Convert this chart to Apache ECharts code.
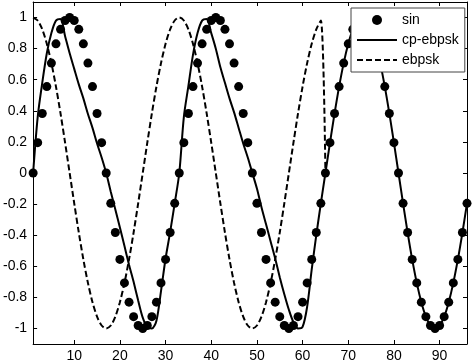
<!DOCTYPE html>
<html>
<head>
<meta charset="utf-8">
<script src="https://cdn.jsdelivr.net/npm/echarts/dist/echarts.min.js"></script>
<style>
html,body{margin:0;padding:0;background:#fff;}
#chart{width:474px;height:363px;}
</style>
</head>
<body>
<div id="chart"></div>
<script>
// sample index n = 1..96
var sampleIndex = [1,2,3,4,5,6,7,8,9,10,11,12,13,14,15,16,17,18,19,20,21,22,23,24,25,26,27,28,29,30,31,32,
  33,34,35,36,37,38,39,40,41,42,43,44,45,46,47,48,49,50,51,52,53,54,55,56,57,58,59,60,61,62,63,64,
  65,66,67,68,69,70,71,72,73,74,75,76,77,78,79,80,81,82,83,84,85,86,87,88,89,90,91,92,93,94,95,96];

var sinValues = [0,0.195,0.383,0.556,0.707,0.831,0.924,0.981,1,0.981,0.924,0.831,0.707,0.556,0.383,0.195,
  0,-0.195,-0.383,-0.556,-0.707,-0.831,-0.924,-0.981,-1,-0.981,-0.924,-0.831,-0.707,-0.556,-0.383,-0.195,
  0,0.195,0.383,0.556,0.707,0.831,0.924,0.981,1,0.981,0.924,0.831,0.707,0.556,0.383,0.195,
  0,-0.195,-0.383,-0.556,-0.707,-0.831,-0.924,-0.981,-1,-0.981,-0.924,-0.831,-0.707,-0.556,-0.383,-0.195,
  0,0.195,0.383,0.556,0.707,0.831,0.924,0.981,1,0.981,0.924,0.831,0.707,0.556,0.383,0.195,
  0,-0.195,-0.383,-0.556,-0.707,-0.831,-0.924,-0.981,-1,-0.981,-0.924,-0.831,-0.707,-0.556,-0.383,-0.195];

var cpEbpskValues = [0,0.36,0.58,0.77,0.9,0.98,0.99,0.88,0.77,0.67,0.57,0.48,0.38,0.29,0.19,0.1,
  0,-0.12,-0.235,-0.35,-0.47,-0.59,-0.7,-0.82,-0.93,-0.99,-1,-0.95,-0.76,-0.55,-0.38,-0.195,
  0,0.36,0.56,0.76,0.9,0.98,0.99,0.9,0.8,0.68,0.58,0.48,0.39,0.29,0.19,0.1,
  0,-0.1,-0.22,-0.33,-0.44,-0.55,-0.67,-0.78,-0.88,-0.96,-1,-0.99,-0.86,-0.62,-0.4,-0.195,
  0,0.195,0.383,0.556,0.707,0.831,0.924,0.981,1,0.981,0.924,0.831,0.707,0.556,0.383,0.195,
  0,-0.195,-0.383,-0.556,-0.707,-0.831,-0.924,-0.981,-1,-0.981,-0.924,-0.831,-0.707,-0.556,-0.383,-0.195];

var ebpskValues = [1,0.981,0.924,0.831,0.707,0.556,0.383,0.195,0,-0.195,-0.383,-0.556,-0.707,-0.831,-0.924,-0.981,
  -1,-0.981,-0.924,-0.831,-0.707,-0.556,-0.383,-0.195,0,0.195,0.383,0.556,0.707,0.831,0.924,0.981,
  1,0.981,0.924,0.831,0.707,0.556,0.383,0.195,0,-0.195,-0.383,-0.556,-0.707,-0.831,-0.924,-0.981,
  -1,-0.981,-0.924,-0.831,-0.707,-0.556,-0.383,-0.195,0,0.195,0.383,0.556,0.707,0.831,0.924,0.981,
  0];

var xTicks = [10,20,30,40,50,60,70,80,90];
var yTicks = [-1,-0.8,-0.6,-0.4,-0.2,0,0.2,0.4,0.6,0.8,1];
var seriesNames = ['sin','cp-ebpsk','ebpsk'];

function pairs(vals){
  return vals.map(function(v,i){ return [sampleIndex[i], v]; });
}

var font = 'Liberation Sans, Arial, sans-serif';
function xAx(pos, showLabel){
  return {
    type:'value', min:1, max:96, position:pos,
    axisLine:{show:true, onZero:false, lineStyle:{color:'#000', width:1}},
    axisTick:{show:true, inside:true, length:4, customValues:xTicks, lineStyle:{color:'#000'}},
    axisLabel:{show:showLabel, customValues:xTicks, color:'#000', fontSize:14, margin:5, fontFamily:font},
    splitLine:{show:false}
  };
}
function yAx(pos, showLabel){
  return {
    type:'value', min:-1.1, max:1.1, position:pos,
    axisLine:{show:true, onZero:false, lineStyle:{color:'#000', width:1}},
    axisTick:{show:true, inside:true, length:4, customValues:yTicks, lineStyle:{color:'#000'}},
    axisLabel:{show:showLabel, customValues:yTicks, color:'#000', fontSize:14, margin:6, fontFamily:font},
    splitLine:{show:false}
  };
}

var hiddenSymbol = {color:'rgba(0,0,0,0)', borderWidth:0, opacity:0};

var chart = echarts.init(document.getElementById('chart'), null, {renderer:'canvas'});
chart.setOption({
  animation:false,
  backgroundColor:'#fff',
  grid:{left:27, right:7, top:2, bottom:17, containLabel:false},
  xAxis:[xAx('bottom', true), xAx('top', false)],
  yAxis:[yAx('left', true), yAx('right', false)],
  legend:{
    data:[
      {name:seriesNames[0], icon:'circle', itemStyle:{color:'#000', opacity:1}},
      {name:seriesNames[1], itemStyle:hiddenSymbol},
      {name:seriesNames[2], itemStyle:hiddenSymbol}
    ],
    orient:'vertical', left:351, top:8,
    itemWidth:40, itemHeight:10, itemGap:6,
    padding:[5,6,5,5],
    borderColor:'#444', borderWidth:1, backgroundColor:'#fff',
    textStyle:{color:'#000', fontSize:14, fontFamily:font}
  },
  series:[
    {name:seriesNames[0], type:'scatter', data:pairs(sinValues), symbol:'circle', symbolSize:9,
     itemStyle:{color:'#000', opacity:1}, z:2},
    {name:seriesNames[1], type:'line', data:pairs(cpEbpskValues), showSymbol:false, symbol:'none', smooth:0.3,
     lineStyle:{color:'#000', width:2}, itemStyle:{color:'#000'}, z:3},
    {name:seriesNames[2], type:'line', data:pairs(ebpskValues), showSymbol:false, symbol:'none', smooth:0.3,
     lineStyle:{color:'#000', width:2, type:[6,3]}, itemStyle:{color:'#000'}, z:4}
  ]
});
</script>
</body>
</html>
